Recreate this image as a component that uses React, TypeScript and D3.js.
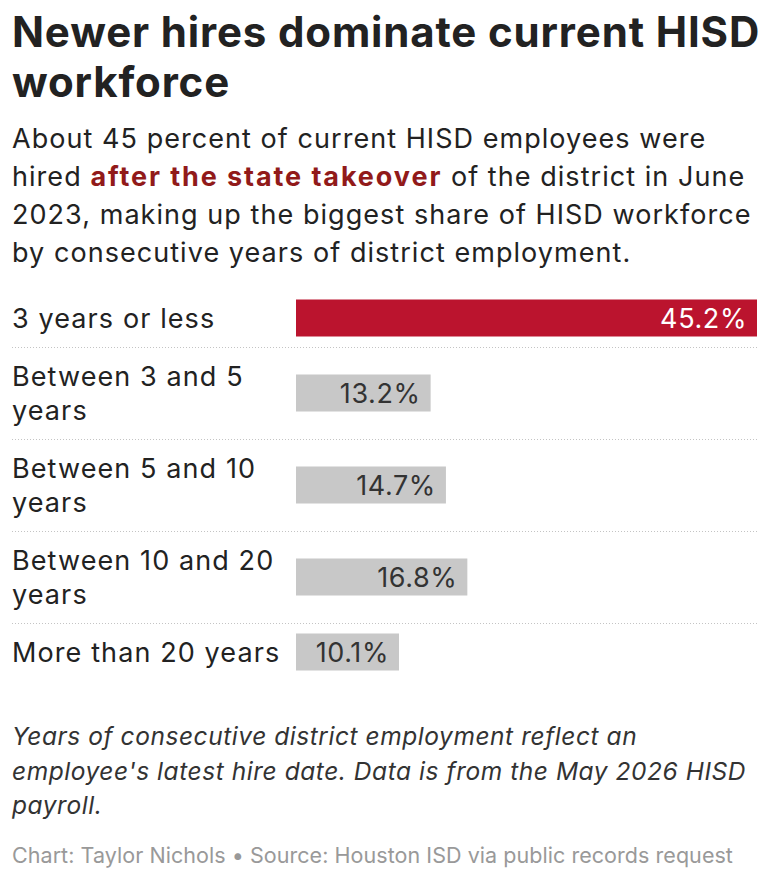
import React from "react";
import * as d3 from "d3";

const categories = [
  "3 years or less",
  "Between 3 and 5 years",
  "Between 5 and 10 years",
  "Between 10 and 20 years",
  "More than 20 years",
];
const values = [45.2, 13.2, 14.7, 16.8, 10.1];
const highlighted = [true, false, false, false, false];

const W = 768;
const H = 882;
const FONT = "Inter, Roboto, 'Noto Sans', sans-serif";

function wrap(text: string, maxWidth: number, font: string, ls: number): string[] {
  const canvas = document.createElement("canvas");
  const ctx = canvas.getContext("2d")!;
  ctx.font = font;
  const words = text.split(" ");
  const lines: string[] = [];
  let cur = "";
  for (const w of words) {
    const test = cur ? cur + " " + w : w;
    const wd = ctx.measureText(test).width + ls * test.length;
    if (wd > maxWidth && cur) {
      lines.push(cur);
      cur = w;
    } else cur = test;
  }
  if (cur) lines.push(cur);
  return lines;
}

export default function App() {
  const labelSize = 27;
  const labelLS = 1.1;
  const labelFont = `${labelSize}px ${FONT}`;
  const x = d3
    .scaleLinear()
    .domain([0, d3.max(values) as number])
    .range([296, 757]);

  const lineH = 34;
  const pad = 12;
  const top0 = 289;
  const rows: { top: number; h: number; lines: string[] }[] = [];
  let y = top0;
  categories.forEach((c) => {
    const lines = wrap(c, 282, labelFont, labelLS);
    const h = pad * 2 + lineH * lines.length;
    rows.push({ top: y, h, lines });
    y += h;
  });

  const barH = 37;

  return (
    <div style={{ position: "absolute", left: 0, top: 0 }}>
      <svg width={W} height={H} style={{ display: "block", background: "#fff" }}>
        <g fontFamily={FONT}>
          <text x={12} y={47} fontSize={42} fontWeight={700} fill="#222" letterSpacing={0.85}>
            <tspan x={12} y={47}>Newer hires dominate current HISD</tspan>
            <tspan x={12} y={97}>workforce</tspan>
          </text>
          <text fontSize={27} fill="#222" letterSpacing={1.05}>
            <tspan x={12} y={148}>About 45 percent of current HISD employees were</tspan>
            <tspan x={12} y={186}>
              hired <tspan fontWeight={700} fill="#911a1a" letterSpacing={1.9}>after the state takeover</tspan> of the district in June
            </tspan>
            <tspan x={12} y={224}>2023, making up the biggest share of HISD workforce</tspan>
            <tspan x={12} y={262}>by consecutive years of district employment.</tspan>
          </text>

          {rows.map((r, i) => {
            const cy = r.top + r.h / 2;
            const textTop = cy - (r.lines.length * lineH) / 2;
            return (
              <g key={i}>
                {i > 0 && (
                  <line
                    x1={12}
                    x2={757}
                    y1={r.top + 0.5}
                    y2={r.top + 0.5}
                    stroke="#c4c4c4"
                    strokeWidth={1}
                    strokeDasharray="1,2"
                  />
                )}
                <text fontSize={labelSize} fill="#222" letterSpacing={labelLS}>
                  {r.lines.map((l, j) => (
                    <tspan key={j} x={12} y={textTop + lineH * j + 27}>
                      {l}
                    </tspan>
                  ))}
                </text>
                <rect
                  x={x(0)}
                  y={cy - barH / 2}
                  width={x(values[i]) - x(0)}
                  height={barH}
                  fill={highlighted[i] ? "#bb142e" : "#c8c8c8"}
                />
                <text
                  x={x(values[i]) - 10}
                  y={cy + 9.5}
                  fontSize={27}
                  letterSpacing={0.6}
                  textAnchor="end"
                  fill={highlighted[i] ? "#fff" : "#333"}
                >
                  {values[i].toFixed(1)}%
                </text>
              </g>
            );
          })}

          <text fontSize={24.5} fontStyle="italic" fill="#333" letterSpacing={0.55}>
            <tspan x={12} y={745}>Years of consecutive district employment reflect an</tspan>
            <tspan x={12} y={780}>employee's latest hire date. Data is from the May 2026 HISD</tspan>
            <tspan x={12} y={814}>payroll.</tspan>
          </text>
          <text x={12} y={863} fontSize={21.5} fill="#999" letterSpacing={0.05}>
            Chart: Taylor Nichols • Source: Houston ISD via public records request
          </text>
        </g>
      </svg>
    </div>
  );
}
